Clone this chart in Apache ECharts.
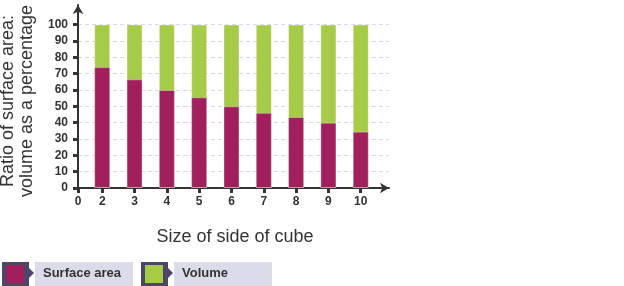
<!DOCTYPE html>
<html>
<head>
<meta charset="utf-8">
<script src="https://cdn.jsdelivr.net/npm/echarts@6/dist/echarts.min.js"></script>
<style>html,body{margin:0;padding:0;background:#fff}#c{width:624px;height:286px}</style>
</head>
<body>
<div id="c"></div>
<script>
// ---- data ----
const cubeSides = [2, 3, 4, 5, 6, 7, 8, 9, 10];
const surfaceArea = [74, 66.5, 60, 55.5, 50, 46, 43.5, 40, 34.5];
const volume = [26, 33.5, 40, 44.5, 50, 54, 56.5, 60, 65.5];
const seriesNames = ['Surface area', 'Volume'];
const yTickValues = [0, 10, 20, 30, 40, 50, 60, 70, 80, 90, 100];
const xOriginLabel = '0';
const xAxisTitle = 'Size of side of cube';
const yAxisTitle = 'Ratio of surface area:\nvolume as a percentage';

// ---- styles ----
const colors = ['#A11F5D', '#A6CB49'];
const axisColor = '#333333';
const X_MIN = 1.25, X_MAX = 10.875;

const chart = echarts.init(document.getElementById('c'), null, {renderer: 'canvas'});

const xTickValues = [X_MIN].concat(cubeSides);

// volume segment sits on top of the surface-area segment (stacked)
const surfaceData = cubeSides.map((s, i) => [s, surfaceArea[i]]);
const volumeStackTop = cubeSides.map((s, i) => [s, surfaceArea[i] + volume[i]]);

function legendGraphics() {
  const els = [];
  const startX = [2, 141];
  seriesNames.forEach((name, i) => {
    const x0 = startX[i];
    els.push({type: 'rect', left: x0, top: 262, shape: {width: 27, height: 27}, style: {fill: '#4A4767'}, silent: true});
    els.push({type: 'rect', left: x0 + 4, top: 265, shape: {width: 18, height: 18}, style: {fill: colors[i]}, silent: true});
    els.push({type: 'polygon', shape: {points: [[x0 + 27, 268], [x0 + 32, 273], [x0 + 27, 278]]}, style: {fill: '#4A4767'}, silent: true});
    els.push({type: 'rect', left: x0 + 33, top: 262, shape: {width: 98, height: 27}, style: {fill: '#DCDBE9'}, silent: true});
    els.push({type: 'text', left: x0 + 41, top: 267, style: {text: name, fill: '#333', font: 'bold 13px "Liberation Sans", Arial, sans-serif'}, silent: true});
  });
  return els;
}

const option = {
  animation: false,
  grid: {left: 78, right: 235, top: 5, bottom: 98, containLabel: false, outerBoundsMode: 'none'},
  xAxis: {
    type: 'value', min: X_MIN, max: X_MAX,
    name: xAxisTitle, nameLocation: 'middle', nameGap: 40,
    nameTextStyle: {fontFamily: 'Liberation Sans', fontSize: 18, color: '#333', padding: [0, 0, 0, 3]},
    axisLine: {show: true, lineStyle: {color: axisColor, width: 2}, symbol: ['none', 'arrow'], symbolSize: [8, 9]},
    axisTick: {show: true, length: 5, lineStyle: {color: axisColor, width: 3}, customValues: xTickValues},
    axisLabel: {
      customValues: xTickValues, margin: 8,
      fontFamily: 'Liberation Sans', fontWeight: 'bold', fontSize: 12, color: '#333',
      formatter: v => (v === X_MIN ? xOriginLabel : String(v))
    },
    splitLine: {show: false}
  },
  yAxis: {
    type: 'value', min: 0, max: 112,
    name: yAxisTitle, nameLocation: 'middle', nameGap: 41, nameRotate: 90,
    nameTextStyle: {fontFamily: 'Liberation Sans', fontSize: 18, color: '#333', lineHeight: 19, padding: [0, 9, 0, 0]},
    axisLine: {show: true, lineStyle: {color: axisColor, width: 2}, symbol: ['none', 'arrow'], symbolSize: [8, 9]},
    axisTick: {show: true, length: 5, lineStyle: {color: axisColor, width: 3}, customValues: yTickValues},
    axisLabel: {customValues: yTickValues, margin: 10, fontFamily: 'Liberation Sans', fontWeight: 'bold', fontSize: 12, color: '#333'},
    splitLine: {show: true, lineStyle: {color: '#D9D8EA', type: [4, 3], width: 1}}
  },
  series: [
    {
      name: seriesNames[1], type: 'bar', barWidth: 16, barGap: '-100%',
      data: volumeStackTop,
      itemStyle: {color: colors[1], borderColor: 'rgba(255,255,255,0.35)', borderWidth: 1}, z: 1
    },
    {
      name: seriesNames[0], type: 'bar', barWidth: 16, barGap: '-100%',
      data: surfaceData,
      itemStyle: {color: colors[0], borderColor: 'rgba(255,255,255,0.35)', borderWidth: 1}, z: 2
    }
  ],
  graphic: legendGraphics()
};
chart.setOption(option);
</script>
</body>
</html>
